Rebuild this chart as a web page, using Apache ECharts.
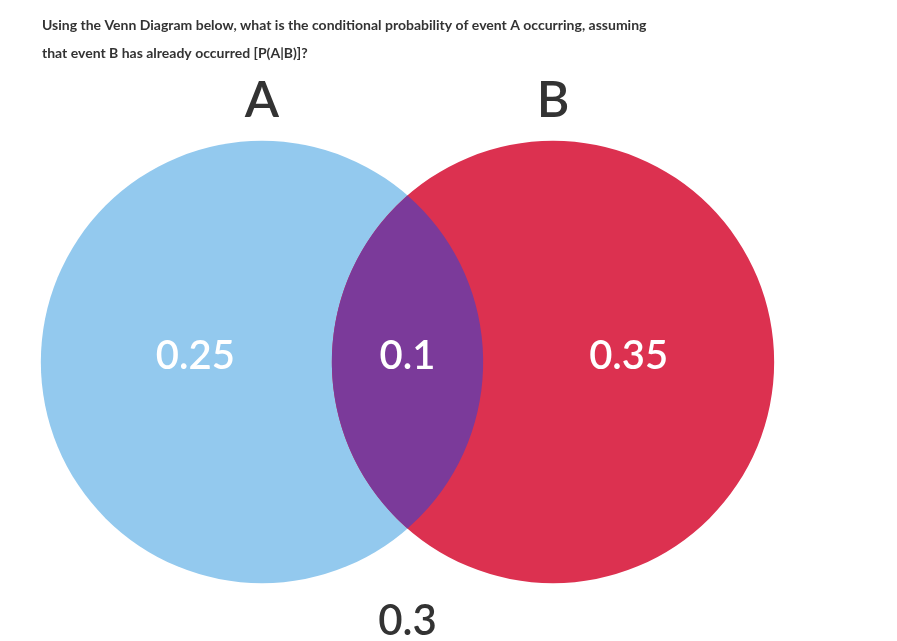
<!DOCTYPE html>
<html>
<head>
<meta charset="utf-8">
<script src="https://cdn.jsdelivr.net/npm/echarts@6/dist/echarts.min.js"></script>
<style>html,body{margin:0;padding:0;background:#fff}#main{width:897px;height:641px}</style>
</head>
<body>
<div id="main"></div>
<script>
// venn data
var setNames = ['A', 'B'];
var setCenters = [0, 1];      // x of each circle center, data units
var radius = 0.76;
var onlyA = 0.25, both = 0.1, onlyB = 0.35, neither = 0.3;
var titleLines = [
  'Using the Venn Diagram below, what is the conditional probability of event A occurring, assuming',
  'that event B has already occurred [P(A|B)]?'
];

var chart = echarts.init(document.getElementById('main'));
var font = 'Lato, "Open Sans", sans-serif';

function renderItem(params, api) {
  var cA = api.coord([setCenters[0], 0]);
  var cB = api.coord([setCenters[1], 0]);
  var r = api.size([radius, 0])[0];
  var d = cB[0] - cA[0];
  var h = Math.sqrt(r * r - d * d / 4);
  var mx = cA[0] + d / 2, cy = cA[1];
  var lens = 'M' + mx + ',' + (cy - h) +
    ' A' + r + ',' + r + ' 0 0 1 ' + mx + ',' + (cy + h) +
    ' A' + r + ',' + r + ' 0 0 1 ' + mx + ',' + (cy - h) + ' Z';
  var leftA = cA[0] - r, rightB = cB[0] + r;
  var lensL = cB[0] - r, lensR = cA[0] + r;
  function txt(x, y, s, size, color) {
    return {type: 'text', style: {x: x, y: y, text: s, fill: color, font: '600 ' + size + 'px ' + font,
      align: 'center', verticalAlign: 'middle'}};
  }
  return {type: 'group', children: [
    {type: 'circle', shape: {cx: cA[0], cy: cy, r: r}, style: {fill: '#93C9EE'}},
    {type: 'circle', shape: {cx: cB[0], cy: cy, r: r}, style: {fill: '#DC3150'}},
    {type: 'path', shape: {pathData: lens}, style: {fill: '#7B3A9A'}},
    txt((leftA + lensL) / 2 + 9, cy - 6, String(onlyA), 40, '#fff'),
    txt(mx, cy - 6, String(both), 40, '#fff'),
    txt((lensR + rightB) / 2, cy - 6, String(onlyB), 40, '#fff'),
    txt(mx, cy + r + 38, String(neither), 42, '#333'),
    txt(cA[0], cy - r - 40, setNames[0], 50, '#333'),
    txt(cB[0], cy - r - 40, setNames[1], 50, '#333')
  ]};
}

chart.setOption({
  animation: false,
  title: {
    text: titleLines.join('\n'), left: 37, top: 6,
    textStyle: {fontSize: 14, fontWeight: 'bold', color: '#333', lineHeight: 28, fontFamily: font}
  },
  grid: {left: 0, right: 0, top: 0, bottom: 0},
  xAxis: {type: 'value', min: -262 / 291, max: -262 / 291 + 897 / 291, show: false},
  yAxis: {type: 'value', min: 362 / 291 - 641 / 291, max: 362 / 291, show: false},
  series: [{type: 'custom', renderItem: renderItem, data: [[0, 0]], silent: true}]
});
</script>
</body>
</html>
